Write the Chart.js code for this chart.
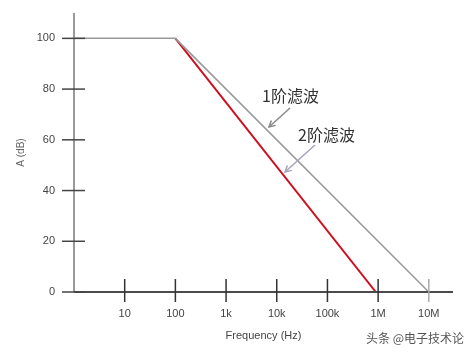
<!DOCTYPE html>
<html>
<head>
<meta charset="utf-8">
<script src="https://cdn.jsdelivr.net/npm/chart.js@4/dist/chart.umd.min.js"></script>
<style>
  html, body { margin: 0; padding: 0; background: #fff; }
  #wrap { position: relative; width: 474px; height: 354px; }
</style>
</head>
<body>
<div id="wrap"><canvas id="c" width="474" height="354"></canvas></div>
<script>
// --- data ---
const freqTicks = [10, 100, 1e3, 1e4, 1e5, 1e6, 1e7];
const freqLabels = ['10', '100', '1k', '10k', '100k', '1M', '10M'];
const gainTicks = [0, 20, 40, 60, 80, 100];

const firstOrderX = [1, 100, 1e7];
const firstOrderY = [100, 100, 0];
const secondOrderX = [100, 9e5];
const secondOrderY = [100, 0];

const labelFirst = '1阶滤波';
const labelSecond = '2阶滤波';
const watermark = '头条 @电子技术论';

const toPoints = (xs, ys) => xs.map((x, i) => ({ x, y: ys[i] }));

// cross-shaped tick marks, arrows and notes
const decorPlugin = {
  id: 'decor',
  afterDraw(chart) {
    const ctx = chart.ctx;
    const xs = chart.scales.x, ys = chart.scales.y;
    const x0 = xs.getPixelForValue(xs.min);
    const y0 = ys.getPixelForValue(0);
    ctx.save();
    // axes
    ctx.lineWidth = 2;
    ctx.strokeStyle = '#9a9a9a';
    ctx.beginPath(); ctx.moveTo(x0, chart.chartArea.top); ctx.lineTo(x0, y0); ctx.stroke();
    ctx.strokeStyle = '#4a4a4a';
    ctx.beginPath(); ctx.moveTo(x0, y0); ctx.lineTo(chart.chartArea.right, y0); ctx.stroke();
    // y ticks
    gainTicks.forEach(v => {
      const py = ys.getPixelForValue(v);
      ctx.strokeStyle = '#444';
      ctx.lineWidth = 1.5;
      ctx.beginPath(); ctx.moveTo(x0 - 12, py); ctx.lineTo(x0 + 11, py); ctx.stroke();
    });
    // x ticks
    freqTicks.forEach((v, i) => {
      const px = xs.getPixelForValue(v);
      ctx.strokeStyle = i === freqTicks.length - 1 ? '#aaa' : '#333';
      ctx.lineWidth = 1.5;
      ctx.beginPath(); ctx.moveTo(px, y0 - 13); ctx.lineTo(px, y0 + 10); ctx.stroke();
    });
    // notes
    ctx.fillStyle = '#333';
    ctx.font = '16px "Noto Sans CJK SC", sans-serif';
    ctx.textBaseline = 'middle';
    ctx.fillText(labelFirst, 262, 96);
    ctx.fillText(labelSecond, 298, 135);
    // arrows
    const arrow = (ax, ay, bx, by, col) => {
      ctx.strokeStyle = col; ctx.lineWidth = 1.5;
      ctx.beginPath(); ctx.moveTo(ax, ay); ctx.lineTo(bx, by); ctx.stroke();
      const a = Math.atan2(by - ay, bx - ax);
      ctx.beginPath();
      ctx.moveTo(bx - 7 * Math.cos(a - 0.5), by - 7 * Math.sin(a - 0.5));
      ctx.lineTo(bx, by);
      ctx.lineTo(bx - 7 * Math.cos(a + 0.5), by - 7 * Math.sin(a + 0.5));
      ctx.stroke();
    };
    arrow(290, 108, 269, 127, '#888');
    arrow(315, 145, 285, 172, '#a8a3bd');
    // watermark
    ctx.fillStyle = '#555';
    ctx.font = '12px "Noto Sans CJK SC", sans-serif';
    ctx.fillText(watermark, 366, 338);
    ctx.restore();
  }
};

new Chart(document.getElementById('c'), {
  type: 'line',
  data: {
    datasets: [
      { data: toPoints(firstOrderX, firstOrderY), borderColor: '#999', borderWidth: 1.5, pointRadius: 0, tension: 0 },
      { data: toPoints(secondOrderX, secondOrderY), borderColor: '#cc1020', borderWidth: 2, pointRadius: 0, tension: 0 }
    ]
  },
  options: {
    responsive: false,
    animation: false,
    layout: { padding: { left: 0, top: 13, right: 21, bottom: 0 } },
    plugins: { legend: { display: false }, tooltip: { enabled: false } },
    scales: {
      x: {
        type: 'logarithmic',
        min: 1, max: 3e7,
        afterBuildTicks: s => { s.ticks = freqTicks.map(v => ({ value: v })); },
        afterFit: s => { s.height = 62; s.paddingLeft = 0; s.paddingRight = 0; },
        grid: { display: false, drawTicks: false },
        border: { display: false },
        ticks: {
          padding: 15, autoSkip: false, maxRotation: 0, color: '#444',
          font: { family: 'Liberation Sans', size: 11 },
          callback: v => freqLabels[freqTicks.indexOf(v)] ?? ''
        },
        title: {
          display: true, text: 'Frequency (Hz)', color: '#444',
          font: { family: 'Liberation Sans', size: 11 },
          padding: { top: 0, bottom: 11 }
        }
      },
      y: {
        min: 0, max: 110,
        afterBuildTicks: s => { s.ticks = gainTicks.map(v => ({ value: v })); },
        afterFit: s => { s.width = 74; s.paddingTop = 0; s.paddingBottom = 0; },
        grid: { display: false, drawTicks: false },
        border: { display: false },
        ticks: { padding: 19, color: '#444', font: { family: 'Liberation Sans', size: 11 } },
        title: {
          display: true, text: 'A (dB)', color: '#666',
          font: { family: 'Liberation Sans', size: 10 },
          padding: { top: 15, bottom: 0 }
        }
      }
    }
  },
  plugins: [decorPlugin]
});
</script>
</body>
</html>
